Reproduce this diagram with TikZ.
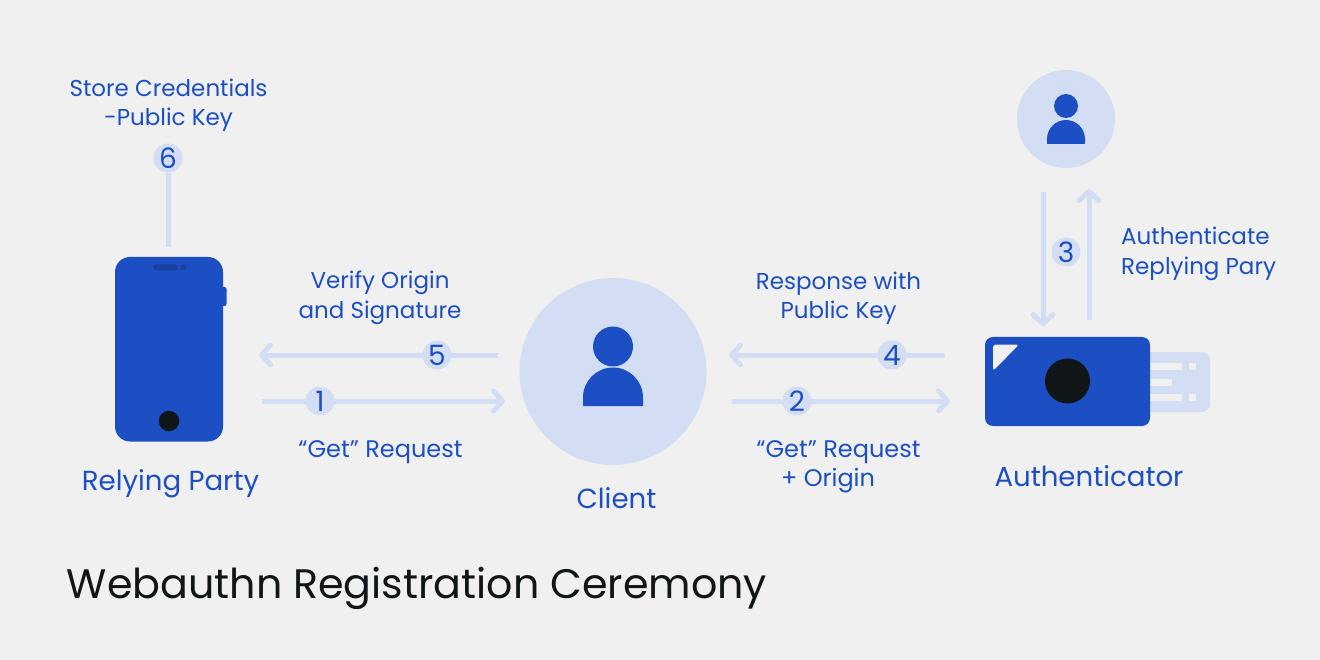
\documentclass[tikz,border=0pt]{standalone}
\usepackage{fontspec}
\setmainfont{Poppins}
\usetikzlibrary{arrows.meta,backgrounds}
\definecolor{bgc}{HTML}{F0F0F0}
\definecolor{bluec}{HTML}{1D4FC4}
\definecolor{lightc}{HTML}{D3DEF4}
\definecolor{darkc}{HTML}{101518}
\definecolor{speakerc}{HTML}{1A3F9C}
\tikzset{
  lbl/.style={text=bluec,align=center,inner sep=0pt,font=\fontsize{23}{29.5}\selectfont},
  wlbl/.style={lbl,font=\fontsize{24}{29.5}\selectfont},
  biglbl/.style={text=bluec,align=center,inner sep=0pt,font=\fontsize{27.6}{32}\selectfont},
  num/.style={circle,fill=lightc,text=bluec,minimum size=29pt,inner sep=0pt,font=\fontsize{28}{28}\selectfont},
  conn/.style={draw=lightc,line width=5pt},
  arr/.style={conn,-{Straight Barb[length=9pt,width=20pt,line width=5pt,round]}},
}
\begin{document}
\begin{tikzpicture}[x=1pt,y=-1pt]
\useasboundingbox (0,0) rectangle (1320,660);
\begin{scope}[on background layer]
\fill[bgc] (0,0) rectangle (1320,660);
\end{scope}
% phone
\fill[bluec,rounded corners=2pt] (215,287) rectangle (226.5,306);
\fill[bluec,rounded corners=15pt] (115,257) rectangle (223,441.5);
\fill[speakerc,rounded corners=3pt] (153,264.5) rectangle (178,270.5);
\fill[speakerc] (183,267.5) circle (3);
\node[circle,fill=darkc,minimum size=20.5pt,inner sep=0pt] (home) at (169,421) {};
% client
\node[circle,fill=lightc,minimum size=187pt,inner sep=0pt] (client) at (613,371.5) {};
\fill[bluec] (613,346.5) circle (20);
\fill[bluec] (583,406) -- (583,397.5) arc[start angle=180,end angle=360,radius=30] -- (643,406) -- cycle;
% user
\node[circle,fill=lightc,minimum size=98pt,inner sep=0pt] (user) at (1066,119) {};
\fill[bluec] (1066,106) circle (12);
\fill[bluec] (1047,144) -- (1047,139) arc[start angle=180,end angle=360,radius=19] -- (1085,144) -- cycle;
% authenticator
\fill[lightc,rounded corners=8pt] (1130,352) rectangle (1210,412);
\fill[bgc] (1150,363) rectangle (1182,370);
\fill[bgc] (1150,378.5) rectangle (1172,385.5);
\fill[bgc] (1150,393.5) rectangle (1182,400.5);
\fill[bgc] (1189,363) rectangle (1196,370);
\fill[bgc] (1189,393.5) rectangle (1196,400.5);
\fill[bluec,rounded corners=8pt] (985,337) rectangle (1150,426);
\fill[bgc,rounded corners=3pt] (1005,344.5) -- (1019,344.5) -- (993,371) -- (993,344.5) -- cycle;
\node[circle,fill=darkc,minimum size=45pt,inner sep=0pt] (lens) at (1067.5,381) {};
% numbers
\node[num] (n1) at (320,401) {1};
\node[num] (n2) at (797,401) {2};
\node[num] (n3) at (1066,252) {3};
\node[num] (n4) at (892,355) {4};
\node[num] (n5) at (437,355) {5};
\node[num] (n6) at (168,158) {6};
% free ends
\coordinate (a5s) at (498,355); \coordinate (a5e) at (259,355);
\coordinate (a1s) at (262,401); \coordinate (a1e) at (505,401);
\coordinate (a4s) at (945,355); \coordinate (a4e) at (729,355);
\coordinate (a2s) at (732,401); \coordinate (a2e) at (950,401);
\coordinate (a3ds) at (1043,192); \coordinate (a3de) at (1043,326);
\coordinate (a3us) at (1089,320); \coordinate (a3ue) at (1089,189);
\coordinate (l6e) at (168,247);
% connectors run beneath the number discs
\begin{scope}[on background layer]
\draw[arr] (a5s) -- (a5e);
\draw[arr] (a1s) -- (a1e);
\draw[arr] (a4s) -- (a4e);
\draw[arr] (a2s) -- (a2e);
\draw[arr] (a3ds) -- (a3de);
\draw[arr] (a3us) -- (a3ue);
\draw[conn] (n6) -- (l6e);
\end{scope}
% labels
\node[lbl] (t6) at (168.5,105) {Store Credentials\\-Public Key};
\node[lbl] (t5) at (380,298) {Verify Origin\\and Signature};
\node[wlbl] (t1) at (380.5,452) {“Get” Request};
\node[lbl] (t4) at (838.5,298) {Response with\\Public Key};
\node[wlbl] (t2) at (838.5,467) {“Get” Request\\+ Origin\hspace*{21pt}};
\node[lbl,align=left,anchor=west] (t3) at (1121,254) {Authenticate\\Replying Pary};
\node[biglbl] (trp) at (170.5,484) {Relying Party};
\node[biglbl] (tcl) at (616.5,498) {Client};
\node[biglbl] (tau) at (1089,476) {Authenticator};
\node[inner sep=0pt,text=darkc,font=\fontsize{41.2}{46}\selectfont] (title) at (417,588) {Webauthn Registration Ceremony};
\end{tikzpicture}
\end{document}
